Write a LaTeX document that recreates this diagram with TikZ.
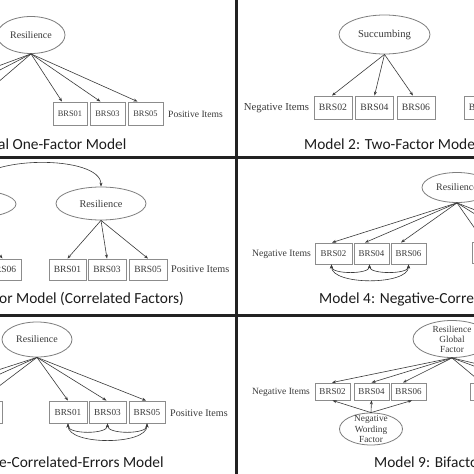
\documentclass[tikz,border=0pt]{standalone}
\usepackage{fontspec}
\setmainfont{Liberation Serif}
\newfontfamily\ttlfont{Carlito}
\usetikzlibrary{shapes.geometric,arrows.meta,calc}
\definecolor{arrowcol}{HTML}{3A3A3A}
\definecolor{boxcol}{HTML}{8C8C8C}
\definecolor{ellcol}{HTML}{7E7E7E}
\definecolor{txtcol}{HTML}{3A3A3A}
\definecolor{ttlcol}{HTML}{1C1C1C}
\definecolor{divcol}{HTML}{222222}
\tikzset{
  item/.style={draw=boxcol, line width=0.9pt, inner sep=0pt, text=txtcol, minimum height=23, minimum width=36},
  latent/.style={ellipse, draw=ellcol, line width=0.8pt, inner sep=0pt, text=txtcol},
  side/.style={text=txtcol, inner sep=0pt},
  load/.style={draw=arrowcol, line width=0.6pt, -{Stealth[length=4pt,width=3pt]}},
  cov/.style={draw=arrowcol, line width=0.6pt, {Stealth[length=4pt,width=3pt]}-{Stealth[length=4pt,width=3pt]}},
  ttl/.style={anchor=base west, inner sep=0pt, text=ttlcol, font=\ttlfont\fontsize{15.4}{16}\selectfont},
  divider/.style={draw=divcol, line width=3pt}
}
\begin{document}
\begin{tikzpicture}[x=1pt,y=-1pt]
\useasboundingbox (0,0) rectangle (474,474);
\fill[white] (0,0) rectangle (474,474);

% ---------- Panel 1 ----------
\begin{scope}
\clip (0,0) rectangle (235,156);
\node[latent, minimum width=68, minimum height=37, font=\fontsize{10}{10}\selectfont] (R1) at (31,35) {Resilience};
\node[item, minimum width=34, font=\fontsize{8.4}{9}\selectfont] (P1b1) at (70,113.5) {BRS01};
\node[item, minimum width=35, font=\fontsize{8.4}{9}\selectfont] (P1b3) at (107.5,113.5) {BRS03};
\node[item, minimum width=35, font=\fontsize{8.4}{9}\selectfont] (P1b5) at (145.5,113.5) {BRS05};
\node[side, anchor=west, font=\fontsize{9.6}{10}\selectfont] (P1pos) at (168,114) {Positive Items};
\coordinate (P1n2) at (-99,102);
\coordinate (P1n4) at (-62,102);
\coordinate (P1n6) at (-25,102);
\draw[load] (R1.south) -- (P1n2);
\draw[load] (R1.south) -- (P1n4);
\draw[load] (R1.south) -- (P1n6);
\draw[load] (R1.south) -- ($(P1b1.north)+(-8,0)$);
\draw[load] (R1.south) -- ($(P1b3.north)+(-7,0)$);
\draw[load] (R1.south) -- ($(P1b5.north)+(-8,0)$);
\node[ttl] (P1t) at (-2,149) {al One-Factor Model};
\end{scope}

% ---------- Panel 2 ----------
\begin{scope}
\clip (238,0) rectangle (474,156);
\node[latent, minimum width=91, minimum height=39, font=\fontsize{10.6}{11}\selectfont] (S2) at (384.5,34.5) {Succumbing};
\node[item, minimum width=38, font=\fontsize{9.7}{10}\selectfont] (P2n2) at (333,107.5) {BRS02};
\node[item, minimum width=38, font=\fontsize{9.7}{10}\selectfont] (P2n4) at (374.5,107.5) {BRS04};
\node[item, minimum width=38, font=\fontsize{9.7}{10}\selectfont] (P2n6) at (416,107.5) {BRS06};
\node[item, minimum width=38, font=\fontsize{9.7}{10}\selectfont] (P2p1) at (483,107.5) {BRS01};
\node[side, font=\fontsize{10.7}{11}\selectfont] (P2neg) at (276.5,108) {Negative Items};
\draw[load] (S2.south) -- ($(P2n2.north)+(-1,0)$);
\draw[load] (S2.south) -- (P2n4.north);
\draw[load] (S2.south) -- ($(P2n6.north)+(-3,0)$);
\node[ttl] (P2t) at (304,149) {Model 2: Two-Factor Mode};
\end{scope}

% ---------- Panel 3 ----------
\begin{scope}
\clip (0,159) rectangle (235,314);
\node[latent, minimum width=90, minimum height=28] (S3) at (-29,204) {};
\node[latent, minimum width=90, minimum height=33, font=\fontsize{10.3}{11}\selectfont] (R3) at (101,203.5) {Resilience};
\node[item, minimum width=37, minimum height=21, font=\fontsize{9.5}{10}\selectfont] (P3n6) at (2.5,269.5) {BRS06};
\node[item, minimum width=37, minimum height=21, font=\fontsize{9.5}{10}\selectfont] (P3b1) at (67.5,269.5) {BRS01};
\node[item, minimum width=38, minimum height=21, font=\fontsize{9.5}{10}\selectfont] (P3b3) at (107,269.5) {BRS03};
\node[item, minimum width=38, minimum height=21, font=\fontsize{9.5}{10}\selectfont] (P3b5) at (148,269.5) {BRS05};
\node[side, anchor=west, font=\fontsize{10.2}{11}\selectfont] (P3pos) at (171,269.5) {Positive Items};
\draw[cov] (S3.north) .. controls +(10,-35) and +(0,-32) .. (R3.north);
\draw[load] (S3.south) -- (P3n6.north);
\draw[load] (R3.south) -- (P3b1.north);
\draw[load] (R3.south) -- (P3b3.north);
\draw[load] (R3.south) -- (P3b5.north);
\node[ttl] (P3t) at (-1,303) {or Model (Correlated Factors)};
\end{scope}

% ---------- Panel 4 ----------
\begin{scope}
\clip (238,159) rectangle (474,314);
\node[latent, minimum width=70, minimum height=30, font=\fontsize{10}{10}\selectfont] (R4) at (457,187.5) {Resilience};
\node[item, minimum width=37, minimum height=21, font=\fontsize{8.9}{9}\selectfont] (P4n2) at (333.5,253.5) {BRS02};
\node[item, minimum width=35, minimum height=21, font=\fontsize{8.9}{9}\selectfont] (P4n4) at (371.5,253.5) {BRS04};
\node[item, minimum width=35, minimum height=21, font=\fontsize{8.9}{9}\selectfont] (P4n6) at (408.5,253.5) {BRS06};
\node[item, minimum width=36, minimum height=21] (P4p1) at (490,252.5) {};
\coordinate (P4p3) at (520,242);
\coordinate (P4p5) at (557,242);
\node[side, font=\fontsize{9.7}{10}\selectfont] (P4neg) at (281.5,254) {Negative Items};
\draw[load] (R4.south) -- ($(P4n2.north)+(-1.5,0)$);
\draw[load] (R4.south) -- ($(P4n4.north)+(-6.5,0)$);
\draw[load] (R4.south) -- ($(P4n6.north)+(-7.5,0)$);
\draw[load] (R4.south) -- ($(P4p1.north)+(-6,0)$);
\draw[load] (R4.south) -- (P4p3);
\draw[load] (R4.south) -- (P4p5);
\draw[cov] ($(P4n2.south)+(-2,0)$) .. controls +(0,10) and +(0,10) .. ($(P4n4.south)+(-2,0)$);
\draw[cov] ($(P4n4.south)+(-2,0)$) .. controls +(0,10) and +(0,10) .. (P4n6.south);
\draw[cov] ($(P4n2.south)+(-2,0)$) .. controls +(0,21) and +(0,21) .. (P4n6.south);
\node[ttl] (P4t) at (319,303) {Model 4: Negative-Corre};
\end{scope}

% ---------- Panel 5 ----------
\begin{scope}
\clip (0,317) rectangle (235,474);
\node[latent, minimum width=70, minimum height=35, font=\fontsize{10}{10}\selectfont] (R5) at (37,339.5) {Resilience};
\node[item, minimum width=36, minimum height=22] (P5n6) at (-16,412) {};
\coordinate (P5n4) at (-60,401);
\coordinate (P5n2) at (-98,401);
\node[item, minimum width=38, minimum height=22, font=\fontsize{9.2}{10}\selectfont] (P5b1) at (68,412) {BRS01};
\node[item, minimum width=37, minimum height=22, font=\fontsize{9.2}{10}\selectfont] (P5b3) at (107.5,412) {BRS03};
\node[item, minimum width=36, minimum height=22, font=\fontsize{9.2}{10}\selectfont] (P5b5) at (147,412) {BRS05};
\node[side, anchor=west, font=\fontsize{10.1}{11}\selectfont] (P5pos) at (170,413) {Positive Items};
\draw[load] (R5.south) -- (P5n2);
\draw[load] (R5.south) -- (P5n4);
\draw[load] (R5.south) -- ($(P5n6.north)+(-4,0)$);
\draw[load] (R5.south) -- (P5b1.north);
\draw[load] (R5.south) -- ($(P5b3.north)+(-1,0)$);
\draw[load] (R5.south) -- ($(P5b5.north)+(-1,0)$);
\draw[cov] (P5b1.south) .. controls +(0,11) and +(0,11) .. (P5b3.south);
\draw[cov] (P5b3.south) .. controls +(0,11) and +(0,11) .. (P5b5.south);
\draw[cov] (P5b1.south) .. controls +(0,22) and +(0,22) .. (P5b5.south);
\node[ttl] (P5t) at (-1,467) {e-Correlated-Errors Model};
\end{scope}

% ---------- Panel 6 ----------
\begin{scope}
\clip (238,317) rectangle (474,474);
\node[latent, minimum width=78, minimum height=37] (G6) at (452,339) {};
\node[side, align=center, font=\fontsize{9.3}{10}\selectfont] (G6t) at (G6.center) {Resilience\\Global\\Factor};
\node[item, minimum width=35, minimum height=17, font=\fontsize{9}{10}\selectfont] (P6n2) at (332.5,391.5) {BRS02};
\node[item, minimum width=35, minimum height=17, font=\fontsize{9}{10}\selectfont] (P6n4) at (371.5,391.5) {BRS04};
\node[item, minimum width=35, minimum height=17, font=\fontsize{9}{10}\selectfont] (P6n6) at (408.5,391.5) {BRS06};
\node[item, minimum width=35, minimum height=17] (P6p1) at (487.5,391.5) {};
\coordinate (P6p3) at (520,383);
\coordinate (P6p5) at (557,383);
\node[side, font=\fontsize{9.5}{10}\selectfont] (P6neg) at (281,392) {Negative Items};
\node[latent, minimum width=63, minimum height=32] (W6) at (371,429) {};
\node[side, align=center, font=\fontsize{9.3}{10.5}\selectfont] (W6t) at (W6.center) {Negative\\Wording\\Factor};
\draw[load] (G6.south) -- ($(P6n2.north)+(-0.5,0)$);
\draw[load] (G6.south) -- (P6n4.north);
\draw[load] (G6.south) -- ($(P6n6.north)+(-5.5,0)$);
\draw[load] (G6.south) -- ($(P6p1.north)+(-6,0)$);
\draw[load] (G6.south) -- (P6p3);
\draw[load] (G6.south) -- (P6p5);
\draw[load] (W6.north) -- (P6n2.south);
\draw[load] (W6.north) -- (P6n4.south);
\draw[load] (W6.north) -- ($(P6n6.south)+(3.5,0)$);
\node[ttl] (P6t) at (374,467) {Model 9: Bifacto};
\end{scope}

% ---------- dividers ----------
\draw[divider] (236.5,0) -- (236.5,474);
\draw[divider] (0,157.5) -- (474,157.5);
\draw[divider] (0,315.5) -- (474,315.5);
\end{tikzpicture}
\end{document}
